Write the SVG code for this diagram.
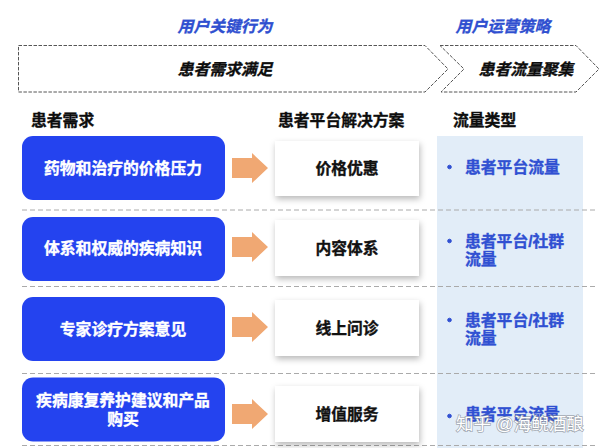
<svg xmlns="http://www.w3.org/2000/svg" width="600" height="448" viewBox="0 0 600 448">
<defs>
<filter id="sh" x="-15%" y="-25%" width="130%" height="160%"><feDropShadow dx="1" dy="3" stdDeviation="3" flood-color="#000" flood-opacity="0.28"/></filter>
<polygon id="arw" points="232,-10 252,-10 252,-15 268,0 252,15 252,10 232,10" fill="#f0a873"/>
</defs>
<style>
text{font-family:"Liberation Sans","Noto Sans CJK SC",sans-serif;font-weight:700;font-size:15.8px;stroke-width:.35px}
.it{font-style:italic}
.hd{fill:#2f4fd0;stroke:#2f4fd0;text-anchor:middle}
.k{fill:#0d0d0d;stroke:#0d0d0d}
.w{fill:#fff;stroke:#fff;text-anchor:middle}
.c{fill:#111;stroke:#111;text-anchor:middle}
.b{fill:#3050d2;stroke:#3050d2}
.need{fill:#2443ef}
.sol{fill:#fff;filter:url(#sh)}
.dash{fill:none;stroke:#555;stroke-width:1;stroke-dasharray:3.5 1.5}
.sep{fill:none;stroke:#aaa;stroke-width:1;stroke-dasharray:5 3}
.wm{font-size:17.5px;font-weight:400;fill:#fff;stroke:#8a8f98;stroke-width:1.5px;stroke-opacity:.75;paint-order:stroke}
</style>
<rect x="437" y="136" width="146" height="312" fill="#e2edf8"/>
<g id="connectors">
<use href="#arw" y="168"/>
<use href="#arw" y="247"/>
<use href="#arw" y="327"/>
<use href="#arw" y="414"/>
</g>
<g id="separators">
<path class="sep" d="M22 210H598M22 286.500H598M22 373.500H598M22 445.500H598"/>
</g>
<g id="header-left">
<text class="hd it" x="225" y="32">用户关键行为</text>
<polygon class="dash" points="18.500,45.500 425,45.500 448,69 425,92 18.500,92"/>
<text class="k it" x="225" y="75" text-anchor="middle">患者需求满足</text>
</g>
<g id="header-right">
<text class="hd it" x="503" y="32">用户运营策略</text>
<polygon class="dash" points="440,45.500 576,45.500 599,69 576,92 441,92 464,69"/>
<text class="k it" x="526" y="75" text-anchor="middle">患者流量聚集</text>
</g>
<g id="col-heads">
<text class="k" x="31" y="126">患者需求</text>
<text class="k" x="278" y="126">患者平台解决方案</text>
<text class="k" x="453" y="126">流量类型</text>
</g>
<g id="need-1"><rect class="need" x="22" y="136" width="203" height="64" rx="11"/><text class="w" x="123" y="174">药物和治疗的价格压力</text></g>
<g id="need-2"><rect class="need" x="22" y="217" width="203" height="64" rx="11"/><text class="w" x="123" y="254">体系和权威的疾病知识</text></g>
<g id="need-3"><rect class="need" x="22" y="297" width="203" height="64" rx="11"/><text class="w" x="123" y="335">专家诊疗方案意见</text></g>
<g id="need-4"><rect class="need" x="22" y="377.500" width="203" height="64" rx="11"/><text class="w" x="123" y="406">疾病康复养护建议和产品</text><text class="w" x="123" y="425">购买</text></g>
<g id="sol-1"><rect class="sol" x="275" y="141" width="144" height="55"/><text class="c" x="347" y="174">价格优惠</text></g>
<g id="sol-2"><rect class="sol" x="275" y="220" width="144" height="56"/><text class="c" x="347" y="254">内容体系</text></g>
<g id="sol-3"><rect class="sol" x="275" y="300" width="144" height="56"/><text class="c" x="347" y="334">线上问诊</text></g>
<g id="sol-4"><rect class="sol" x="275" y="386" width="144" height="56"/><text class="c" x="347" y="420">增值服务</text></g>
<g id="traffic-1"><circle class="b" cx="449.500" cy="167" r="1.800"/><text class="b" x="465" y="173">患者平台流量</text></g>
<g id="traffic-2"><circle class="b" cx="449.500" cy="241" r="1.800"/><text class="b" x="465" y="247">患者平台/社群</text><text class="b" x="465" y="265">流量</text></g>
<g id="traffic-3"><circle class="b" cx="449.500" cy="320" r="1.800"/><text class="b" x="465" y="326">患者平台/社群</text><text class="b" x="465" y="344">流量</text></g>
<g id="traffic-4"><circle class="b" cx="449.500" cy="416" r="1.800"/><text class="b" x="465" y="420">患者平台流量</text></g>
<text class="wm" x="456" y="430">知乎 @海鲵酒酿</text>
</svg>
